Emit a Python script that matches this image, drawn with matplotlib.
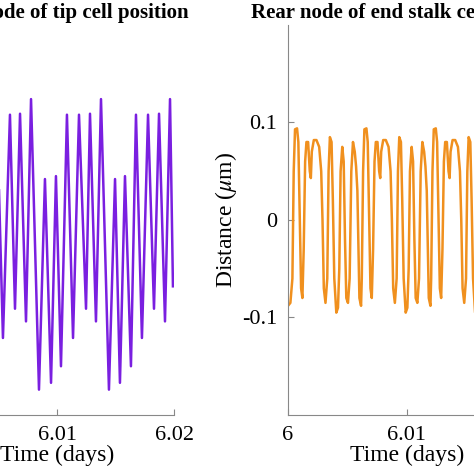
import matplotlib.pyplot as plt
import numpy as np

plt.rcParams['font.family'] = ['Liberation Serif', 'DejaVu Serif']
plt.rcParams['mathtext.fontset'] = 'stix'
plt.rcParams['axes.unicode_minus'] = False

# === Data (time offset in 1e-4 days from day 6) ===
tip_t = [0, 4.3, 8.5, 13.7, 17.9, 24.8, 29.9, 35.0, 39.3, 43.6, 48.7, 53.8,
         59.8, 64.1, 68.4, 73.5, 77.8, 84.6, 89.7, 94.9, 99.1, 103.4, 108.5, 113.7,
         118.8, 124.8, 128.2, 133.3, 137.6, 144.4, 149.6, 153.8, 158.1, 163.2, 167.5,
         172.6, 177.8, 182.9, 187.2, 192.3, 196.6, 199.1]
tip_y = [0.108, -0.091, 0.109, -0.104, 0.124, -0.174, 0.042, -0.167, 0.045, -0.150, 0.108, -0.121,
         0.108, -0.091, 0.109, -0.104, 0.124, -0.174, 0.042, -0.167, 0.045, -0.150, 0.108, -0.121,
         0.108, -0.091, 0.109, -0.104, 0.124, -0.174, 0.042, -0.167, 0.045, -0.150, 0.108,
         -0.121, 0.108, -0.091, 0.109, -0.104, 0.124, -0.068]

rear_start_t = [0, 2.0]
rear_start_y = [-0.088, -0.085]
rear_cycle_t = [3.7, 4.8, 5.9, 7.6, 8.7, 9.9, 11.0, 12.1, 13.2, 14.4, 15.5, 16.9, 18.3, 19.2,
                20.0, 21.7, 23.9, 26.2, 27.9, 29.0, 30.1, 31.5, 33.0, 34.1, 35.2, 36.6, 37.7,
                38.9, 40.6, 42.0, 43.1, 44.2, 45.6, 46.8, 47.9, 49.0, 50.4, 51.8, 53.2, 54.6,
                56.1, 57.2, 58.3, 59.2, 60.0, 61.4]
rear_cycle_y = [-0.06, 0.05, 0.093, 0.094, 0.08, 0.0, -0.07, -0.08, -0.03, 0.06, 0.08, 0.08, 0.05, 0.043,
                0.07, 0.082, 0.082, 0.075, 0.05, 0.0, -0.07, -0.085, -0.06, 0.05, 0.085, 0.08, 0.02,
                -0.06, -0.095, -0.09, -0.05, 0.05, 0.075, 0.06, -0.02, -0.08, -0.085, -0.06, 0.05, 0.08,
                0.07, 0.055, 0.03, -0.03, -0.08, -0.088]
rear_period = 58.3

rear_t = list(rear_start_t)
rear_y = list(rear_start_y)
for k in range(4):
    rear_t += [t + k * rear_period for t in rear_cycle_t]
    rear_y += rear_cycle_y

tip_days = 6 + np.array(tip_t) * 1e-4
rear_days = 6 + np.array(rear_t) * 1e-4

W = 474
fig = plt.figure(figsize=(4.74, 4.74), dpi=100)
bottom = 1 - 415 / W
height = 390 / W
ax1 = fig.add_axes([-60 / W, bottom, 234 / W, height])
ax2 = fig.add_axes([288 / W, bottom, 238 / W, height])

for ax in (ax1, ax2):
    ax.set_xlim(6, 6.02)
    ax.set_ylim(-0.2, 0.2)
    ax.set_xticks([6, 6.01, 6.02])
    ax.set_xticklabels(['6', '6.01', '6.02'])
    for s in ('top', 'right'):
        ax.spines[s].set_visible(False)
    for s in ('left', 'bottom'):
        ax.spines[s].set_color('#888888')
    ax.tick_params(direction='in', length=4, color='#888888', labelsize=16, pad=8)
    ax.set_xlabel('Time (days)', fontsize=17, labelpad=0)

ax1.set_yticks([])
ax2.set_yticks([-0.1, 0, 0.1])
ax2.set_yticklabels(['-0.1', '0', '0.1'])

ax1.plot(tip_days, tip_y, color='#7a1fe0', lw=1.8)
ax1.set_title('Front node of tip cell position', fontsize=15, fontweight='bold', pad=5)

ax2.plot(rear_days, rear_y, color='#f0901e', lw=1.8, solid_joinstyle='round')
ax2.set_title('Rear node of end stalk cell position', fontsize=15, fontweight='bold', pad=5)
ax2.set_ylabel(r'Distance ($\mu$m)', fontsize=17, labelpad=2)

fig.savefig('out.png', dpi=100)
